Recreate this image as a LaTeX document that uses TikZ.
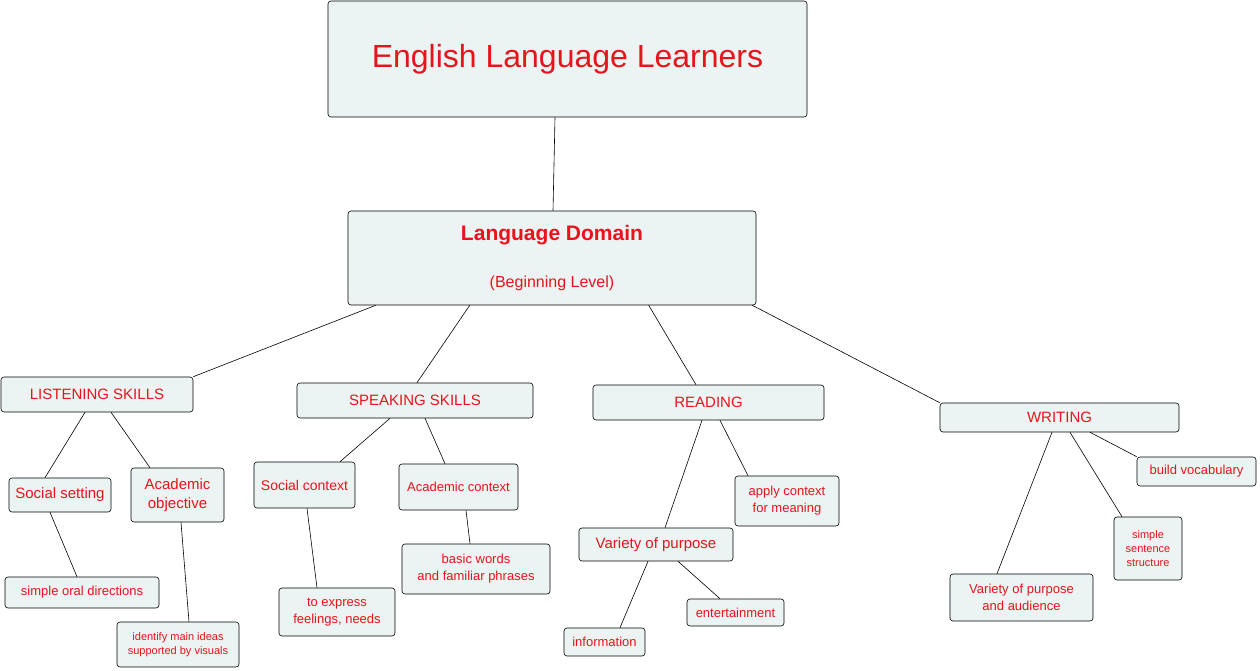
\documentclass[tikz,border=0pt]{standalone}
\usepackage{fontspec}
\setmainfont{Liberation Sans}
\definecolor{boxfill}{HTML}{EBF3F3}
\definecolor{txt}{HTML}{E8141B}
\begin{document}
\begin{tikzpicture}[x=1pt,y=-1pt,
  box/.style={draw=black,fill=boxfill,rounded corners=3pt,text=txt,align=center,inner sep=1pt,line width=0.6pt},
  ln/.style={draw=black,line width=0.6pt},
  fs/.style={font=\fontsize{#1pt}{1.3\dimexpr #1pt\relax}\selectfont}]
\useasboundingbox (0,0) rectangle (1260,671);
\node[box,minimum width=479,minimum height=116,fs=32] (t) at (567.5,59) {English Language Learners};
\node[box,minimum width=408,minimum height=94] (d) at (552,258) {{\fontsize{21pt}{24pt}\selectfont\bfseries Language Domain}\\[30pt]{\fontsize{16pt}{18pt}\selectfont (Beginning Level)}};
\node[box,minimum width=192,minimum height=35,fs=15] (lis) at (97,394.5) {LISTENING SKILLS};
\node[box,minimum width=236,minimum height=35,fs=15] (spk) at (415,400.5) {SPEAKING SKILLS};
\node[box,minimum width=231,minimum height=35,fs=15] (rd) at (708.5,402.5) {READING};
\node[box,minimum width=239,minimum height=29,fs=15] (wr) at (1059.5,417.5) {WRITING};
\node[box,minimum width=102,minimum height=34,fs=15] (ss) at (60,495) {Social setting};
\node[box,minimum width=93,minimum height=54,fs=15] (ao) at (177.5,495) {Academic\\objective};
\node[box,minimum width=154,minimum height=31,fs=13] (sod) at (82,592.5) {simple oral directions};
\node[box,minimum width=122,minimum height=45,fs=11] (imi) at (178,644.5) {identify main ideas\\supported by visuals};
\node[box,minimum width=101,minimum height=46,fs=14] (sc) at (304.5,485) {Social context};
\node[box,minimum width=119,minimum height=46,fs=13] (ac) at (458.5,487) {Academic context};
\node[box,minimum width=116,minimum height=48,fs=13] (te) at (337,612) {to express\\feelings, needs};
\node[box,minimum width=148,minimum height=50,fs=13] (bw) at (476,569) {basic words\\and familiar phrases};
\node[box,minimum width=104,minimum height=50,fs=13] (apc) at (787,501) {apply context\\for meaning};
\node[box,minimum width=154,minimum height=33,fs=15] (vp) at (656,544.5) {Variety of purpose};
\node[box,minimum width=97,minimum height=27,fs=13] (ent) at (735.5,612.5) {entertainment};
\node[box,minimum width=81,minimum height=28,fs=13] (inf) at (604.5,642) {information};
\node[box,minimum width=119,minimum height=29,fs=13] (bv) at (1196.5,471.5) {build vocabulary};
\node[box,minimum width=68,minimum height=63,fs=11] (sss) at (1148,548.5) {simple\\sentence\\structure};
\node[box,minimum width=143,minimum height=47,fs=13] (vpa) at (1021.5,597.5) {Variety of purpose\\and audience};
\draw[ln] ([xshift=-12.5]t.south) -- ([xshift=1]d.north);
\draw[ln] ([xshift=28]d.south west) -- (lis.north east);
\draw[ln] ([xshift=122]d.south west) -- ([xshift=2]spk.north);
\draw[ln] ([xshift=301]d.south west) -- ([xshift=-12.5]rd.north);
\draw[ln] ([xshift=-4]d.south east) -- (wr.north west);
\draw[ln] ([xshift=-12]lis.south) -- ([xshift=-15]ss.north);
\draw[ln] ([xshift=14]lis.south) -- ([xshift=-27.5]ao.north);
\draw[ln] ([xshift=-10]ss.south) -- ([xshift=-5]sod.north);
\draw[ln] ([xshift=3.5]ao.south) -- ([xshift=11]imi.north);
\draw[ln] ([xshift=-25]spk.south) -- ([xshift=35.5]sc.north);
\draw[ln] ([xshift=10]spk.south) -- ([xshift=-13.5]ac.north);
\draw[ln] ([xshift=2.5]sc.south) -- ([xshift=-20]te.north);
\draw[ln] ([xshift=7.5]ac.south) -- ([xshift=-6]bw.north);
\draw[ln] ([xshift=-6.5]rd.south) -- ([xshift=9]vp.north);
\draw[ln] ([xshift=11.5]rd.south) -- ([xshift=-39]apc.north);
\draw[ln] ([xshift=-8]vp.south) -- ([xshift=15.5]inf.north);
\draw[ln] ([xshift=22]vp.south) -- ([xshift=-15.5]ent.north);
\draw[ln] ([xshift=-7.5]wr.south) -- ([xshift=-24.5]vpa.north);
\draw[ln] ([xshift=10.5]wr.south) -- ([xshift=-26]sss.north);
\draw[ln] ([xshift=30.5]wr.south) -- (bv.north west);
\end{tikzpicture}
\end{document}
